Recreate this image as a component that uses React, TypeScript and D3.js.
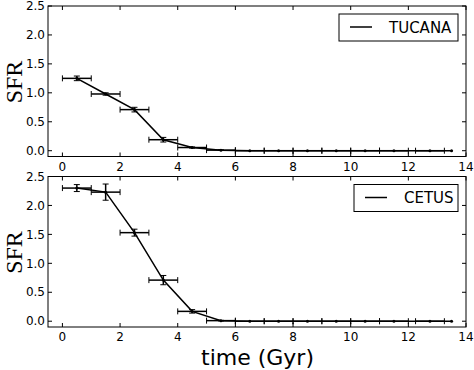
import React, { useEffect, useRef } from 'react';
import * as d3 from 'd3';

// bin centres (Gyr) and half-widths
const timeBins = [0.5, 1.5, 2.5, 3.5, 4.5, 5.5, 6.5, 7.5, 8.5, 9.5, 10.5, 11.5, 12.75, 13.5];
const timeErr = [0.5, 0.5, 0.5, 0.5, 0.5, 0.5, 0.5, 0.5, 0.5, 0.5, 0.5, 0.5, 0.5, 0];

const tucanaSfr = [1.25, 0.98, 0.71, 0.19, 0.055, 0.01, 0, 0, 0, 0, 0, 0, 0, 0];
const tucanaErr = [0.04, 0.02, 0.04, 0.04, 0.01, 0.005, 0, 0, 0, 0, 0, 0, 0, 0];

const cetusSfr = [2.3, 2.23, 1.53, 0.71, 0.17, 0.01, 0, 0, 0, 0, 0, 0, 0, 0];
const cetusErr = [0.06, 0.14, 0.06, 0.08, 0.03, 0.005, 0, 0, 0, 0, 0, 0, 0, 0];

const xTicks = [0, 2, 4, 6, 8, 10, 12, 14];
const yTicks = [0, 0.5, 1.0, 1.5, 2.0, 2.5];

const panels = [
  { name: 'TUCANA', sfr: tucanaSfr, err: tucanaErr, top: 6, legendX: 339 },
  { name: 'CETUS', sfr: cetusSfr, err: cetusErr, top: 176.5, legendX: 354 },
];

const W = 474;
const H = 370;

const App = () => {
  const svgRef = useRef<SVGSVGElement>(null);

  useEffect(() => {
    const svg = d3.select(svgRef.current);
    svg.selectAll('*').remove();
    svg.attr('width', W).attr('height', H);
    svg.append('rect').attr('width', W).attr('height', H).attr('fill', '#fff');

    const left = 48;
    const right = 466;
    const panelH = 150.5;
    const x = d3.scaleLinear().domain([-0.5, 14]).range([left, right]);
    const font = 'DejaVu Sans, sans-serif';

    panels.forEach(p => {
      const y = d3.scaleLinear().domain([-0.1, 2.5]).range([p.top + panelH, p.top]);
      const g = svg.append('g');
      const bottom = p.top + panelH;

      // ticks (inward, all four sides)
      xTicks.forEach(t => {
        g.append('line').attr('x1', x(t)).attr('x2', x(t)).attr('y1', bottom).attr('y2', bottom - 4)
          .attr('stroke', '#000');
        g.append('line').attr('x1', x(t)).attr('x2', x(t)).attr('y1', p.top).attr('y2', p.top + 4)
          .attr('stroke', '#000');
        g.append('text').attr('x', x(t)).attr('y', bottom + 14).attr('text-anchor', 'middle')
          .style('font-family', font).style('font-size', '12px').text(t);
      });
      yTicks.forEach(t => {
        g.append('line').attr('x1', left).attr('x2', left + 4).attr('y1', y(t)).attr('y2', y(t))
          .attr('stroke', '#000');
        g.append('line').attr('x1', right).attr('x2', right - 4).attr('y1', y(t)).attr('y2', y(t))
          .attr('stroke', '#000');
        g.append('text').attr('x', left - 3).attr('y', y(t)).attr('dy', '0.35em')
          .attr('text-anchor', 'end')
          .style('font-family', font).style('font-size', '12px').text(d3.format('.1f')(t));
      });

      const pts = timeBins.map((t, i) => ({ t, xe: timeErr[i], v: p.sfr[i], ye: p.err[i] }));

      // line
      const line = d3.line<any>().x(d => x(d.t)).y(d => y(d.v));
      g.append('path').attr('d', line(pts)).attr('fill', 'none')
        .attr('stroke', '#000').attr('stroke-width', 1.5);

      // error bars
      pts.forEach(d => {
        if (d.xe > 0) {
          g.append('line').attr('x1', x(d.t - d.xe)).attr('x2', x(d.t + d.xe))
            .attr('y1', y(d.v)).attr('y2', y(d.v)).attr('stroke', '#000').attr('stroke-width', 1.5);
          [d.t - d.xe, d.t + d.xe].forEach(e => {
            g.append('line').attr('x1', x(e)).attr('x2', x(e))
              .attr('y1', y(d.v) - 3).attr('y2', y(d.v) + 3).attr('stroke', '#000').attr('stroke-width', 1);
          });
        }
        if (d.ye > 0) {
          g.append('line').attr('x1', x(d.t)).attr('x2', x(d.t))
            .attr('y1', y(d.v - d.ye)).attr('y2', y(d.v + d.ye)).attr('stroke', '#000').attr('stroke-width', 1.5);
          [d.v - d.ye, d.v + d.ye].forEach(e => {
            g.append('line').attr('x1', x(d.t) - 3).attr('x2', x(d.t) + 3)
              .attr('y1', y(e)).attr('y2', y(e)).attr('stroke', '#000').attr('stroke-width', 1);
          });
        }
        g.append('circle').attr('cx', x(d.t)).attr('cy', y(d.v)).attr('r', 1.5).attr('fill', '#000');
      });

      // frame
      g.append('rect').attr('x', left).attr('y', p.top).attr('width', right - left).attr('height', panelH)
        .attr('fill', 'none').attr('stroke', '#000').attr('stroke-width', 1);

      // y label
      g.append('text')
        .attr('transform', `translate(21.5,${p.top + 76}) rotate(-90)`)
        .attr('text-anchor', 'middle')
        .style('font-family', 'Liberation Serif, serif').style('font-size', '24px')
        .text('SFR');

      // legend
      const lg = g.append('g').attr('transform', `translate(${p.legendX},${p.top + 8})`);
      lg.append('rect').attr('width', 458 - p.legendX).attr('height', 27)
        .attr('fill', '#fff').attr('stroke', '#000').attr('stroke-width', 1);
      lg.append('line').attr('x1', 11).attr('x2', 33).attr('y1', 13).attr('y2', 13)
        .attr('stroke', '#000').attr('stroke-width', 1.5);
      lg.append('text').attr('x', 50).attr('y', 13.5).attr('dy', '0.35em')
        .style('font-family', font).style('font-size', '15px').text(p.name);
    });

    svg.append('text').attr('x', 257.5).attr('y', 365).attr('text-anchor', 'middle')
      .style('font-family', font).style('font-size', '22px').text('time (Gyr)');
  }, []);

  return (
    <div style={{ position: 'absolute', left: 0, top: 0 }}>
      <svg ref={svgRef} />
    </div>
  );
};

export default App;
